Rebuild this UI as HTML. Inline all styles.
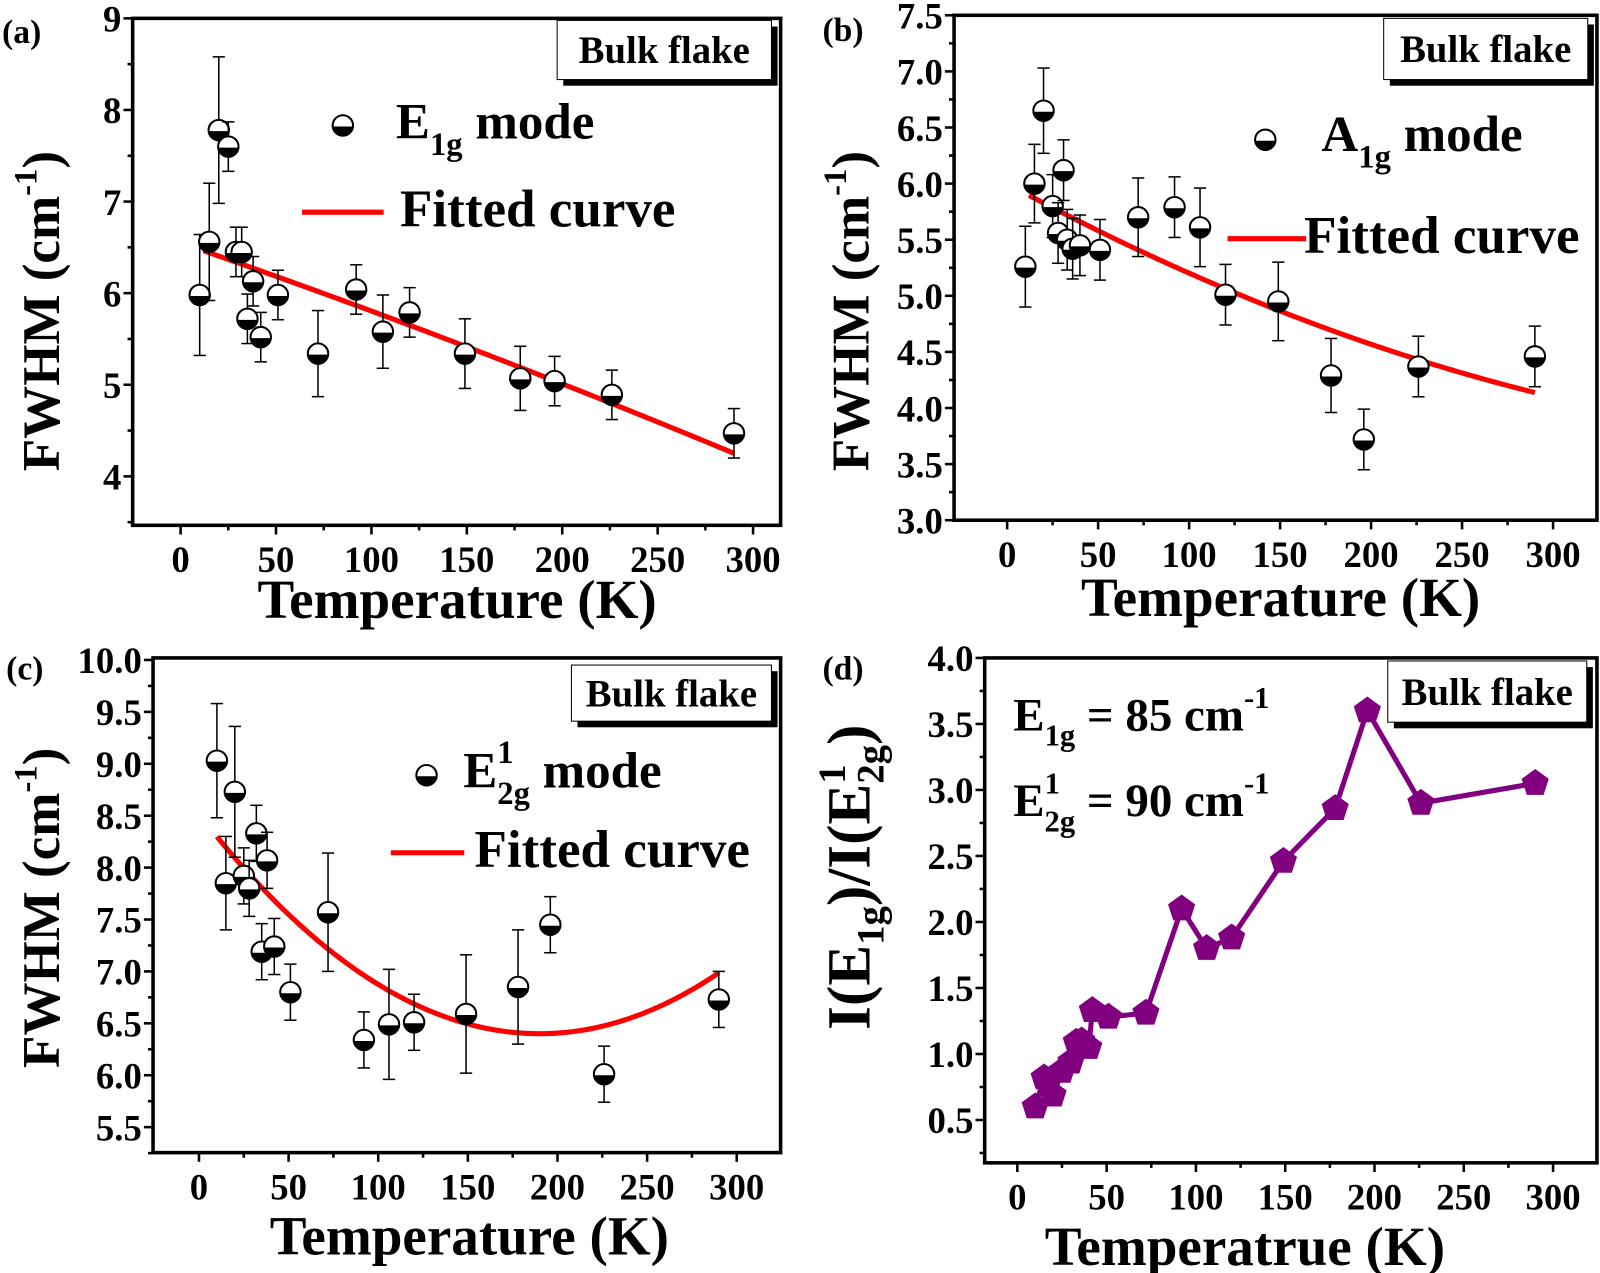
<!DOCTYPE html>
<html><head><meta charset="utf-8"><style>
html,body{margin:0;padding:0;background:#fff;overflow:hidden}
svg{display:block}
text{font-family:"Liberation Serif",serif;font-weight:bold;fill:#000}
</style></head><body>
<svg id="s" width="1600" height="1273" viewBox="0 0 1568 1248" preserveAspectRatio="none" xmlns="http://www.w3.org/2000/svg">
<rect width="1568" height="1248" fill="#fff"/>
<g id="dyn"></g>
<text x="2" y="42" font-size="33">(a)</text>
<text x="806" y="40" font-size="33">(b)</text>
<text x="6" y="666" font-size="33">(c)</text>
<text x="806" y="666" font-size="33">(d)</text>
<text x="448" y="606" font-size="54" text-anchor="middle">Temperature (K)</text>
<text x="1255" y="604" font-size="54" text-anchor="middle">Temperature (K)</text>
<text x="460" y="1230" font-size="54" text-anchor="middle">Temperature (K)</text>
<text x="1220" y="1240" font-size="54" text-anchor="middle">Temperatrue (K)</text>
<text transform="translate(58,305) rotate(-90)" font-size="52" text-anchor="middle">FWHM (cm<tspan font-size="32" dy="-22">-1</tspan><tspan dy="22">)</tspan></text>
<text transform="translate(851,305) rotate(-90)" font-size="52" text-anchor="middle">FWHM (cm<tspan font-size="32" dy="-22">-1</tspan><tspan dy="22">)</tspan></text>
<text transform="translate(58,890) rotate(-90)" font-size="52" text-anchor="middle">FWHM (cm<tspan font-size="32" dy="-22">-1</tspan><tspan dy="22">)</tspan></text>
<text transform="translate(852,860) rotate(-90)" font-size="60" text-anchor="middle">I(E<tspan font-size="38" dy="14">1g</tspan><tspan dy="-14">)/I(E</tspan><tspan font-size="38" dy="-24">1</tspan><tspan font-size="38" dx="-19" dy="38">2g</tspan><tspan dy="-14">)</tspan></text>
<text x="388" y="136" font-size="50">E<tspan font-size="32" dy="16">1g</tspan><tspan dy="-16"> mode</tspan></text>
<line x1="296" y1="208" x2="376" y2="208" stroke="#f00" stroke-width="5"/>
<text x="392" y="222" font-size="52">Fitted curve</text>
<text x="1295" y="148" font-size="50">A<tspan font-size="32" dy="16">1g</tspan><tspan dy="-16"> mode</tspan></text>
<line x1="1203" y1="234" x2="1280" y2="234" stroke="#f00" stroke-width="5"/>
<text x="1278" y="248" font-size="52">Fitted curve</text>
<text x="454" y="772" font-size="50">E<tspan font-size="32" dy="-24">1</tspan><tspan font-size="32" dx="-16" dy="40">2g</tspan><tspan dy="-16"> mode</tspan></text>
<line x1="383" y1="836" x2="455" y2="836" stroke="#f00" stroke-width="5"/>
<text x="465" y="850" font-size="52">Fitted curve</text>
<text x="993" y="716" font-size="46">E<tspan font-size="30" dy="15">1g</tspan><tspan dy="-15"> = 85 cm</tspan><tspan font-size="30" dy="-22">-1</tspan></text>
<text x="993" y="800" font-size="46">E<tspan font-size="30" dy="-22">1</tspan><tspan font-size="30" dx="-15" dy="37">2g</tspan><tspan dy="-15"> = 90 cm</tspan><tspan font-size="30" dy="-22">-1</tspan></text>
</svg>
<script>
const NS="http://www.w3.org/2000/svg";const G=document.getElementById('dyn');
function el(t,a,p){const e=document.createElementNS(NS,t);for(const k in a)e.setAttribute(k,a[k]);(p||G).appendChild(e);return e;}
function panel(c){
 const X=t=>c.x0+(c.x300-c.x0)*t/300, Y=v=>c.yT+(c.yB-c.yT)*(v-c.vT)/(c.vB-c.vT);
 for(let t=0;t<=300;t+=25){const x=X(t);el('line',{x1:x,y1:c.fb,x2:x,y2:c.fb+(t%50?5:9),stroke:'#000','stroke-width':2.5});
  if(t%50==0){const tx=el('text',{x:x,y:c.fb+46,'font-size':36,'text-anchor':'middle'});tx.textContent=t;}}
 for(let v=c.vlo;v<=c.vT+1e-9;v+=c.minor){const y=Y(v);const maj=Math.abs(Math.round(v/c.major)*c.major-v)<1e-6;
  el('line',{x1:c.fl,y1:y,x2:c.fl-(maj?9:5),y2:y,stroke:'#000','stroke-width':2.5});
  if(maj&&v>=c.labMin){const tx=el('text',{x:c.fl-11,y:y+13,'font-size':36,'text-anchor':'end'});tx.textContent=c.fmt(v);}}
 el('rect',{x:c.fl,y:c.ft,width:c.fr-c.fl,height:c.fb-c.ft,fill:'none',stroke:'#000','stroke-width':3.5});
 const b=c.box;el('rect',{x:b[0]+6,y:b[1]+6,width:b[2],height:b[3],fill:'#000'});
 el('rect',{x:b[0],y:b[1],width:b[2],height:b[3],fill:'#fff',stroke:'#000','stroke-width':1});
 const bt=el('text',{x:b[0]+b[2]/2,y:b[1]+b[3]/2+13,'font-size':38,'text-anchor':'middle'});bt.textContent='Bulk flake';
 if(c.fit){let d='';for(let t=c.fit[0];t<=c.fit[1];t+=2){d+=(d?'L':'M')+X(t)+','+Y(c.f(t));}
  el('path',{d:d,fill:'none',stroke:'#f00','stroke-width':5});}
 if(c.line){let d='';c.data.forEach((p,i)=>d+=(i?'L':'M')+X(p[0])+','+Y(p[1]));el('path',{d:d,fill:'none',stroke:'#800080','stroke-width':5});}
 c.data.forEach(p=>{const x=X(p[0]),y=Y(p[1]);
  if(p[2]){const e=p[2];el('line',{x1:x,y1:Y(p[1]-e),x2:x,y2:Y(p[1]+e),stroke:'#000','stroke-width':1.5});
   [p[1]-e,p[1]+e].forEach(v=>el('line',{x1:x-6,y1:Y(v),x2:x+6,y2:Y(v),stroke:'#000','stroke-width':1.5}));}
  if(c.line)pent(x,y,14,'#800080');else half(x,y);});
 if(c.leg)half(c.leg[0],c.leg[1]);
}
function half(x,y){const r=10;el('circle',{cx:x,cy:y,r:r,fill:'#fff',stroke:'#000','stroke-width':2});
 el('path',{d:`M${x-r},${y+1}A${r},${r} 0 0 0 ${x+r},${y+1}Z`,fill:'#000'});}
function pent(x,y,r,f){let d='';for(let i=0;i<5;i++){const a=-Math.PI/2+i*2*Math.PI/5;d+=(i?'L':'M')+(x+r*Math.cos(a))+','+(y+r*Math.sin(a));}el('path',{d:d+'Z',fill:f});}
const f1=v=>String(v), f2=v=>v.toFixed(1);
panel({fl:130,fr:765,ft:18,fb:515,x0:177,x300:738,yT:18,yB:467,vT:9,vB:4,vlo:3.5,major:1,minor:0.5,labMin:4,fmt:f1,box:[546,20,210,58],leg:[336,123],
 fit:[12,290],f:t=>6.55-0.0072*t-0.0000025*t*t,
 data:[[10,5.98,0.66],[15,6.56,0.64],[20,7.78,0.8],[25,7.6,0.27],[29,6.45,0.27],[32,6.45,0.27],[35,5.72,0.27],[38,6.13,0.27],[42,5.52,0.27],[51,5.98,0.27],[72,5.34,0.47],[92,6.04,0.27],[106,5.58,0.4],[120,5.79,0.27],[149,5.34,0.38],[178,5.07,0.35],[196,5.04,0.27],[226,4.89,0.27],[290,4.47,0.27]]});
panel({fl:935,fr:1565,ft:15,fb:510,x0:987,x300:1522,yT:15,yB:510,vT:7.5,vB:3.0,vlo:3.0,major:0.5,minor:0.25,labMin:3,fmt:f2,box:[1356,18,200,60],leg:[1240,137],
 fit:[12,290],f:t=>6.0-0.0088*t+0.0000082*t*t,
 data:[[10,5.26,0.36],[15,6.0,0.35],[20,6.65,0.38],[25,5.8,0.28],[28,5.56,0.27],[31,6.12,0.27],[33,5.5,0.27],[36,5.42,0.27],[40,5.45,0.27],[51,5.41,0.27],[72,5.7,0.35],[92,5.79,0.27],[106,5.61,0.35],[120,5.01,0.27],[149,4.95,0.35],[178,4.29,0.33],[196,3.72,0.27],[226,4.37,0.27],[290,4.46,0.27]]});
panel({fl:150,fr:765,ft:645,fb:1130,x0:195,x300:722,yT:647,yB:1105,vT:10,vB:5.5,vlo:5.25,major:0.5,minor:0.25,labMin:5.5,fmt:f2,box:[560,652,196,55],leg:[418,760],
 fit:[10,290],f:t=>6.4+0.0000586*(t-190)*(t-190),
 data:[[10,9.03,0.55],[15,7.85,0.45],[20,8.73,0.63],[25,7.92,0.27],[28,7.8,0.27],[32,8.33,0.27],[35,7.19,0.27],[38,8.07,0.27],[42,7.24,0.27],[51,6.8,0.27],[72,7.57,0.57],[92,6.34,0.27],[106,6.49,0.53],[120,6.51,0.27],[149,6.59,0.57],[178,6.85,0.55],[196,7.45,0.27],[226,6.01,0.27],[290,6.73,0.27]]});
panel({fl:965,fr:1565,ft:645,fb:1140,x0:997,x300:1522,yT:645,yB:1098,vT:4,vB:0.5,vlo:0.25,major:0.5,minor:0.25,labMin:0.5,fmt:f2,box:[1360,648,195,60],line:true,
 data:[[10,0.6],[15,0.82],[20,0.69],[25,0.87],[30,0.94],[33,1.09],[36,1.1],[40,1.05],[42,1.33],[51,1.28],[72,1.31],[92,2.1],[106,1.8],[120,1.88],[149,2.46],[178,2.86],[196,3.6],[226,2.9],[290,3.05]]});
</script>
</body></html>
